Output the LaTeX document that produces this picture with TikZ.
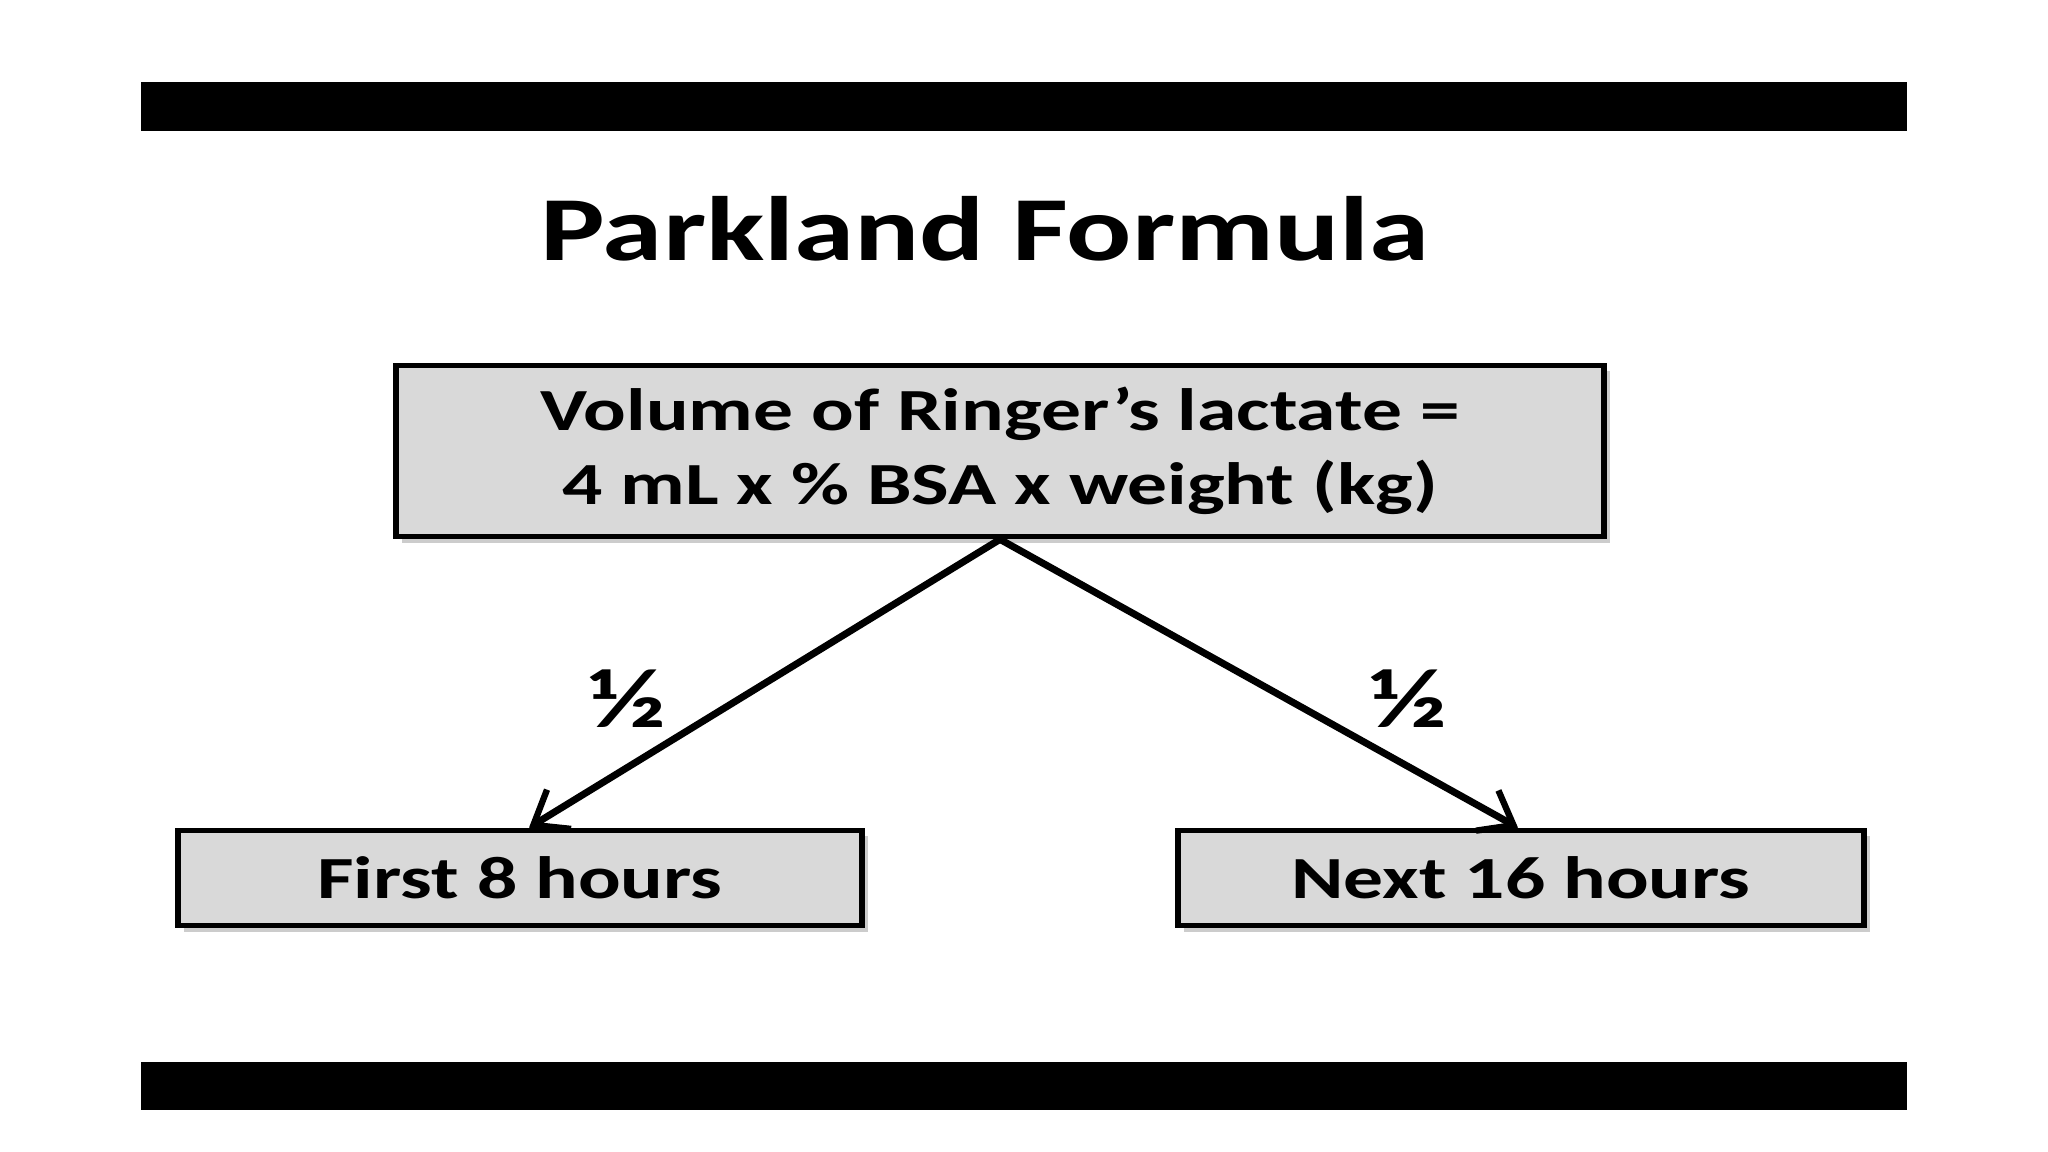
\documentclass[tikz,border=0pt]{standalone}
\usepackage{fontspec}
\setmainfont{Carlito}[FakeStretch=1.33]
\usetikzlibrary{arrows.meta,shadows}
\definecolor{boxgray}{HTML}{D9D9D9}

\begin{document}
\begin{tikzpicture}[x=0.01cm, y=-0.01cm, font=\bfseries]
	\tikzstyle{box}=[draw, line width=1.6pt, fill=boxgray, align=center, inner sep=0pt,
		font=\fontsize{17pt}{21pt}\bfseries\selectfont,
		drop shadow={shadow xshift=0.06cm, shadow yshift=-0.06cm, opacity=0.4}]
	\tikzstyle{arr}=[line width=2pt, -{Straight Barb[length=3mm, width=4.6mm, line width=1.8pt]}]
	\tikzstyle{half}=[font=\fontsize{24pt}{28pt}\bfseries\selectfont]
	
	\useasboundingbox (0,0) rectangle (2048,1152);
	\fill[white] (0,0) rectangle (2048,1152);
	\fill[black] (141,82) rectangle (1907,131);
	\fill[black] (141,1062) rectangle (1907,1110);
	
	\node(title) at (985,229) {\fontsize{26pt}{31pt}\bfseries\selectfont Parkland Formula};
	
	\node[box, minimum width=12.07cm, minimum height=1.71cm](top) at (1000,451)
		{Volume of Ringer’s lactate =\\ 4 mL x \% BSA x weight (kg)};
	\node[box, minimum width=6.83cm, minimum height=0.95cm](first) at (520,878) {First 8 hours};
	\node[box, minimum width=6.86cm, minimum height=0.95cm](next) at (1521,878) {Next 16 hours};
	
	\draw[arr] (top.south) -- ([xshift=0.09cm]first.north);
	\draw[arr] (top.south) -- ([xshift=-0.03cm]next.north);
	
	\node[half](halfL) at (627,699) {½};
	\node[half](halfR) at (1408,699) {½};
\end{tikzpicture}
\end{document}
